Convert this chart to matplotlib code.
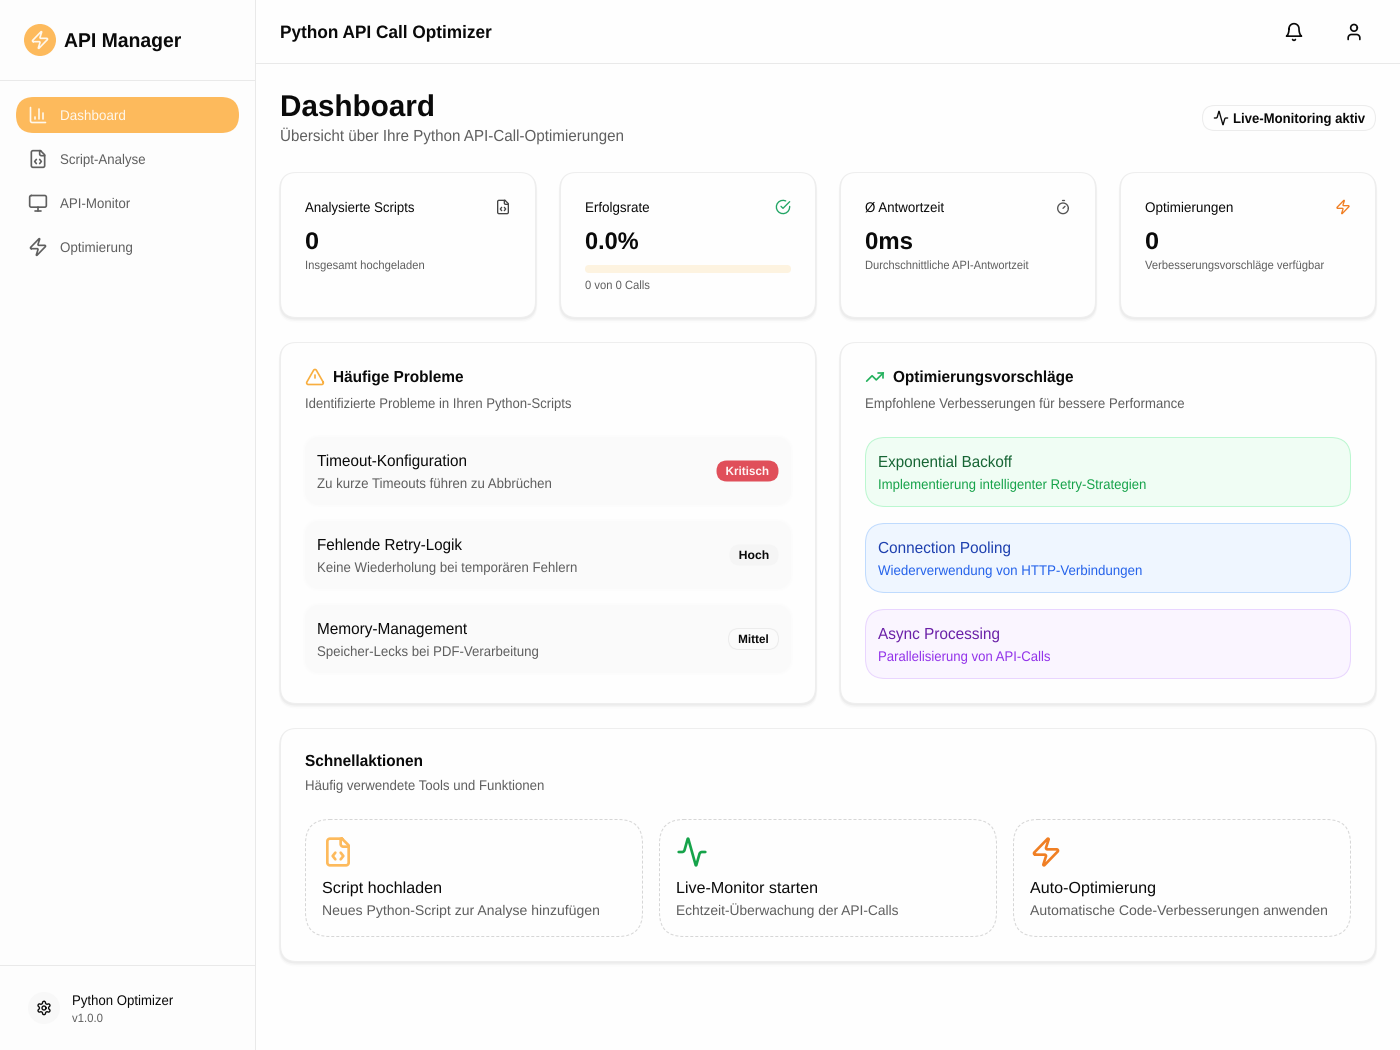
import re, math
import matplotlib
matplotlib.use("Agg")
import matplotlib.pyplot as plt
from matplotlib.patches import FancyBboxPatch, PathPatch, Circle
from matplotlib.path import Path
from matplotlib.patheffects import AbstractPathEffect
from matplotlib.textpath import TextPath
from matplotlib.font_manager import FontProperties
from matplotlib.transforms import Affine2D

plt.rcParams['font.family'] = ['Liberation Sans', 'DejaVu Sans']

# ---- content -----------------------------------------------------------
brand = "API Manager"
page_bar_title = "Python API Call Optimizer"
nav_labels = ["Dashboard", "Script-Analyse", "API-Monitor", "Optimierung"]
footer_name = "Python Optimizer"
footer_version = "v1.0.0"
page_title = "Dashboard"
page_subtitle = "Übersicht über Ihre Python API-Call-Optimierungen"
live_label = "Live-Monitoring aktiv"
stat_titles = ["Analysierte Scripts", "Erfolgsrate", "Ø Antwortzeit", "Optimierungen"]
stat_values = ["0", "0.0%", "0ms", "0"]
stat_notes = ["Insgesamt hochgeladen", "0 von 0 Calls",
              "Durchschnittliche API-Antwortzeit", "Verbesserungsvorschläge verfügbar"]
problems_title = "Häufige Probleme"
problems_sub = "Identifizierte Probleme in Ihren Python-Scripts"
problem_names = ["Timeout-Konfiguration", "Fehlende Retry-Logik", "Memory-Management"]
problem_texts = ["Zu kurze Timeouts führen zu Abbrüchen",
                 "Keine Wiederholung bei temporären Fehlern",
                 "Speicher-Lecks bei PDF-Verarbeitung"]
problem_badges = ["Kritisch", "Hoch", "Mittel"]
tips_title = "Optimierungsvorschläge"
tips_sub = "Empfohlene Verbesserungen für bessere Performance"
tip_names = ["Exponential Backoff", "Connection Pooling", "Async Processing"]
tip_texts = ["Implementierung intelligenter Retry-Strategien",
             "Wiederverwendung von HTTP-Verbindungen",
             "Parallelisierung von API-Calls"]
quick_title = "Schnellaktionen"
quick_sub = "Häufig verwendete Tools und Funktionen"
quick_names = ["Script hochladen", "Live-Monitor starten", "Auto-Optimierung"]
quick_texts = ["Neues Python-Script zur Analyse hinzufügen",
               "Echtzeit-Überwachung der API-Calls",
               "Automatische Code-Verbesserungen anwenden"]

# ---- colours -----------------------------------------------------------
PAGE = "#fefefe"; SIDE = "#fdfdfd"; LINE = "#e9e9e9"; INK = "#0a0a0a"; MUTE = "#5f5f5f"
ORANGE = "#fdba5c"; GREEN = "#16a34a"; DEEP_ORANGE = "#f07f24"

# ---- icons (24 unit outline glyphs) ------------------------------------
ZAP = ["M4 14a1 1 0 0 1-.78-1.63l9.9-10.2a.5.5 0 0 1 .86.46l-1.92 6.02A1 1 0 0 0 13 10h7a1 1 0 0 1 .78 1.63l-9.9 10.2a.5.5 0 0 1-.86-.46l1.92-6.02A1 1 0 0 0 11 14z"]
CHART = ["M3 3v16a2 2 0 0 0 2 2h16", "M18 17V9", "M13 17V5", "M8 17v-3"]
FILE = ["M15 2H6a2 2 0 0 0-2 2v16a2 2 0 0 0 2 2h12a2 2 0 0 0 2-2V7Z", "M14 2v4a2 2 0 0 0 2 2h4",
        "M10 12.5 8 15l2 2.5", "M14 12.5 16 15l-2 2.5"]
MONITOR = ["M4 3h16a2 2 0 0 1 2 2v10a2 2 0 0 1-2 2H4a2 2 0 0 1-2-2V5a2 2 0 0 1 2-2z", "M8 21h8", "M12 17v4"]
ACTIVITY = ["M22 12h-2.48a2 2 0 0 0-1.93 1.46l-2.35 8.36a.25.25 0 0 1-.48 0L9.24 2.18a.25.25 0 0 0-.48 0l-2.35 8.36A2 2 0 0 1 4.49 12H2"]
GEAR = ["M12.22 2h-.44a2 2 0 0 0-2 2v.18a2 2 0 0 1-1 1.73l-.43.25a2 2 0 0 1-2 0l-.15-.08a2 2 0 0 0-2.73.73l-.22.38a2 2 0 0 0 .73 2.73l.15.1a2 2 0 0 1 1 1.72v.51a2 2 0 0 1-1 1.74l-.15.09a2 2 0 0 0-.73 2.73l.22.38a2 2 0 0 0 2.73.73l.15-.08a2 2 0 0 1 2 0l.43.25a2 2 0 0 1 1 1.73V20a2 2 0 0 0 2 2h.44a2 2 0 0 0 2-2v-.18a2 2 0 0 1 1-1.73l.43-.25a2 2 0 0 1 2 0l.15.08a2 2 0 0 0 2.73-.73l.22-.39a2 2 0 0 0-.73-2.73l-.15-.08a2 2 0 0 1-1-1.74v-.5a2 2 0 0 1 1-1.74l.15-.09a2 2 0 0 0 .73-2.73l-.22-.38a2 2 0 0 0-2.73-.73l-.15.08a2 2 0 0 1-2 0l-.43-.25a2 2 0 0 1-1-1.73V4a2 2 0 0 0-2-2z",
        "M15 12a3 3 0 1 1-6 0a3 3 0 1 1 6 0z"]
BELL = ["M6 8a6 6 0 0 1 12 0c0 7 3 9 3 9H3s3-2 3-9", "M10.3 21a1.94 1.94 0 0 0 3.4 0"]
USER = ["M19 21v-2a4 4 0 0 0-4-4H9a4 4 0 0 0-4 4v2", "M16 7a4 4 0 1 1-8 0a4 4 0 1 1 8 0z"]
CHECK = ["M22 11.08V12a10 10 0 1 1-5.93-9.14", "M9 11l3 3L22 4"]
TIMER = ["M10 2h4", "M12 14l3-3", "M20 14a8 8 0 1 1-16 0a8 8 0 1 1 16 0z"]
ALERT = ["M21.73 18l-8-14a2 2 0 0 0-3.48 0l-8 14A2 2 0 0 0 4 21h16a2 2 0 0 0 1.73-3", "M12 9v4", "M12 17h.01"]
TREND = ["M22 7 13.5 15.5 8.5 10.5 2 17", "M16 7 22 7 22 13"]


def arc_points(x0, y0, rx, ry, phi, fa, fs, x1, y1, n=14):
    if x0 == x1 and y0 == y1:
        return []
    dx, dy = (x0 - x1) / 2, (y0 - y1) / 2
    lam = dx * dx / (rx * rx) + dy * dy / (ry * ry)
    if lam > 1:
        rx *= math.sqrt(lam); ry *= math.sqrt(lam)
    num = max(rx*rx*ry*ry - rx*rx*dy*dy - ry*ry*dx*dx, 0)
    den = rx*rx*dy*dy + ry*ry*dx*dx
    k = math.sqrt(num / den) * (1 if fa != fs else -1)
    cxp, cyp = k * rx * dy / ry, -k * ry * dx / rx
    cx, cy = cxp + (x0 + x1) / 2, cyp + (y0 + y1) / 2
    a0 = math.atan2((dy - cyp) / ry, (dx - cxp) / rx)
    a1 = math.atan2((-dy - cyp) / ry, (-dx - cxp) / rx)
    d = a1 - a0
    if fs and d < 0:
        d += 2 * math.pi
    if not fs and d > 0:
        d -= 2 * math.pi
    return [(cx + rx * math.cos(a0 + d * i / n), cy + ry * math.sin(a0 + d * i / n))
            for i in range(1, n + 1)]


def parse_svg(d):
    toks = re.findall(r'[MmLlHhVvCcSsAaZz]|[-+]?(?:\d*\.\d+|\d+\.?)', d)
    i = 0; pts = []; x = y = sx = sy = 0.0; cmd = None; lcx = lcy = None

    def num():
        nonlocal i
        v = float(toks[i]); i += 1
        return v

    def bez(x1, y1, x2, y2, x3, y3):
        nonlocal x, y
        for k in range(1, 13):
            t = k / 12; u = 1 - t
            pts.append((u**3*x + 3*u*u*t*x1 + 3*u*t*t*x2 + t**3*x3,
                        u**3*y + 3*u*u*t*y1 + 3*u*t*t*y2 + t**3*y3))
        x, y = x3, y3

    while i < len(toks):
        if re.match(r'[A-Za-z]', toks[i]):
            cmd = toks[i]; i += 1
            if cmd in 'Zz':
                pts.append((sx, sy)); x, y = sx, sy
                continue
        rel = cmd.islower(); c = cmd.upper()
        if c not in 'CS':
            lcx = lcy = None
        if c == 'M':
            x = num() + (x if rel else 0); y = num() + (y if rel else 0)
            sx, sy = x, y; pts.append((x, y)); cmd = 'l' if rel else 'L'
        elif c == 'L':
            x = num() + (x if rel else 0); y = num() + (y if rel else 0); pts.append((x, y))
        elif c == 'H':
            x = num() + (x if rel else 0); pts.append((x, y))
        elif c == 'V':
            y = num() + (y if rel else 0); pts.append((x, y))
        elif c == 'C':
            ox, oy = (x, y) if rel else (0, 0)
            a = [num() for _ in range(6)]
            lcx, lcy = a[2] + ox, a[3] + oy
            bez(a[0]+ox, a[1]+oy, a[2]+ox, a[3]+oy, a[4]+ox, a[5]+oy)
        elif c == 'S':
            ox, oy = (x, y) if rel else (0, 0)
            a = [num() for _ in range(4)]
            x1, y1 = 2*x - (lcx if lcx is not None else x), 2*y - (lcy if lcy is not None else y)
            lcx, lcy = a[0] + ox, a[1] + oy
            bez(x1, y1, a[0]+ox, a[1]+oy, a[2]+ox, a[3]+oy)
        elif c == 'A':
            rx, ry, phi, fa, fs = num(), num(), num(), num(), num()
            ex = num() + (x if rel else 0); ey = num() + (y if rel else 0)
            pts.extend(arc_points(x, y, rx, ry, phi, int(fa), int(fs), ex, ey))
            x, y = ex, ey
    return pts


class Squeeze(AbstractPathEffect):
    """Narrow a text run about its anchor, standing in for CSS negative letter-spacing."""
    def __init__(self, xc, sx):
        super().__init__()
        self.xc, self.sx = xc, sx

    def draw_path(self, renderer, gc, tpath, affine, rgbFace=None):
        a = affine + Affine2D().translate(-self.xc, 0).scale(self.sx, 1).translate(self.xc, 0)
        renderer.draw_path(gc, tpath, a, rgbFace)


fig = plt.figure(figsize=(14, 10.5), dpi=100, facecolor=PAGE)
ax = fig.add_axes([0, 0, 1, 1])
ax.set_xlim(0, 1400); ax.set_ylim(1050, 0); ax.axis('off')
PX = 0.72


def T(x, y, s, px, color=INK, weight='normal', width=None, ha='left', z=10):
    t = ax.text(x, y, s, fontsize=px * PX, color=color, fontweight=weight, ha=ha, va='baseline', zorder=z)
    fp = FontProperties(family='Liberation Sans', weight=weight)
    ext = TextPath((0, 0), s, size=px, prop=fp).get_extents()
    natural = ext.width if ha == 'center' else ext.x1
    sx = (width / natural) if width is not None else 1.0
    t.set_path_effects([Squeeze(ax.transData.transform((x, y))[0], sx)])
    return t


def icon(cx, cy, size, glyph, color, lw=2.0, z=9):
    s = size / 24
    for d in glyph:
        pts = [(cx - size/2 + a*s, cy - size/2 + b*s) for a, b in parse_svg(d)]
        ax.add_patch(PathPatch(Path(pts), fc='none', ec=color, lw=lw*s*PX, capstyle='round',
                               joinstyle='round', zorder=z))


def box(x0, y0, x1, y1, r, fc='none', ec='none', lw=1.0, ls='-', z=2, alpha=None):
    ax.add_patch(FancyBboxPatch((x0 + r, y0 + r), x1 - x0 - 2*r, y1 - y0 - 2*r,
                                boxstyle=f"round,pad={r},rounding_size={r}",
                                fc=fc, ec=ec, lw=lw*PX, ls=ls, zorder=z, alpha=alpha))


def card(x0, y0, x1, y1, r=16):
    for off, grow, a in [(3, 1.5, .012), (2, 1, .022), (1, .5, .035)]:
        box(x0 - grow, y0 + off - grow, x1 + grow, y1 + off + grow, r + grow, fc='#000000', z=1, alpha=a)
    box(x0 + .5, y0 + .5, x1 - .5, y1 - .5, r, fc='#fefefe', ec='#eeeeee', lw=1, z=2)


def hline(x0, x1, y):
    ln, = ax.plot([x0, x1], [y, y], color=LINE, lw=PX, solid_capstyle='butt', zorder=3)
    ln.set_snap(False)

# ---- sidebar -----------------------------------------------------------
ax.fill_between([0, 255], 0, 1050, color=SIDE, lw=0, zorder=0)
vl, = ax.plot([255.5, 255.5], [0, 1050], color=LINE, lw=PX, zorder=3)
vl.set_snap(False)
hline(0, 255, 80.5); hline(0, 255, 965.5); hline(256, 1400, 63.5)
ax.add_patch(Circle((40, 40), 16, fc=ORANGE, ec='none', zorder=4))
icon(40, 40, 20, ZAP, '#fff8ec', 2, z=5)
T(64, 47, brand, 20, INK, 'bold', width=117)

box(16, 97, 239, 133, 18, fc=ORANGE, z=2)
nav_glyphs = [CHART, FILE, MONITOR, ZAP]
nav_widths = [65, 85, 70, 72]
for k, (lab, g, w) in enumerate(zip(nav_labels, nav_glyphs, nav_widths)):
    cy = 115 + 44 * k
    col = '#fff8ec' if k == 0 else MUTE
    icon(38, cy, 20, g, col, 2)
    T(60, cy + 5, lab, 14, col, width=w)

ax.add_patch(Circle((44, 1008), 16, fc='#f8f8f8', ec='none', zorder=4))
icon(44, 1008, 16, GEAR, INK, 2, z=5)
T(72, 1005, footer_name, 14, INK, width=101)
T(72, 1022, footer_version, 12, MUTE, width=30.5)

# ---- top bar -----------------------------------------------------------
T(280, 38, page_bar_title, 18, INK, 'bold', width=211.5)
icon(1294, 32, 20, BELL, INK, 2)
icon(1354, 32, 20, USER, INK, 2)

T(280, 116, page_title, 30, INK, 'bold', width=153)
T(280, 141, page_subtitle, 16, MUTE, width=343)

box(1202.5, 105.5, 1375.5, 130.5, 12.5, fc='#fefefe', ec='#ececec', lw=1)
icon(1221, 118, 16, ACTIVITY, INK, 2)
T(1233, 123, live_label, 14, INK, 'bold', width=132)

# ---- stat cards --------------------------------------------------------
stat_x = [280, 560, 840, 1120]
stat_glyphs = [(FILE, '#444444'), (CHECK, '#22a565'), (TIMER, '#555555'), (ZAP, DEEP_ORANGE)]
title_w = [109, 64, 79, 87.5]
note_w = [119, 64.5, 163.5, 179]
value_w = [13, 53, 47, 13]
for k, x in enumerate(stat_x):
    card(x, 172, x + 256, 318)
    T(x + 25, 212, stat_titles[k], 14, INK, width=title_w[k])
    icon(x + 223, 207, 16, stat_glyphs[k][0], stat_glyphs[k][1], 2)
    T(x + 25, 249, stat_values[k], 24, INK, 'bold', width=value_w[k])
    ny = 289 if k == 1 else 269
    T(x + 25, ny, stat_notes[k], 12, MUTE, width=note_w[k])
box(585, 265, 791, 273, 4, fc='#fdf3e0')

# ---- problems panel ----------------------------------------------------
card(280, 342, 816, 704)
icon(315, 377, 20, ALERT, '#f8ae3f', 2)
T(333, 382, problems_title, 16, INK, 'bold', width=130)
T(305, 408, problems_sub, 14, MUTE, width=266)
pname_w = [149, 145, 150]
ptext_w = [234, 259.5, 221]
badge_x = [716, 729, 728]
badge_fc = ['#e04f5a', '#f5f5f5', '#fbfbfb']
badge_ec = ['none', 'none', '#ececec']
badge_tc = ['#fff4f4', INK, INK]
for k in range(3):
    y = 437 + 84 * k
    for g, a in [(4, .3), (2, .5)]:
        box(305 - g + 2, y - g + 2, 791 + g - 2, y + 68 + g - 2, 18, fc='#fafafa', z=3, alpha=a)
    box(305, y, 791, y + 68, 16, fc='#fafafa', z=3)
    T(317, y + 29, problem_names[k], 16, INK, width=pname_w[k])
    T(317, y + 51, problem_texts[k], 14, MUTE, width=ptext_w[k])
    box(badge_x[k] + .5, y + 23.5, 778.5, y + 44.5, 10.5, fc=badge_fc[k], ec=badge_ec[k], lw=1, z=4)
    T((badge_x[k] + 779) / 2, y + 38, problem_badges[k], 12, badge_tc[k], 'bold',
      width=[42, 29, 29][k], ha='center')

# ---- tips panel --------------------------------------------------------
card(840, 342, 1376, 704)
icon(875, 377, 20, TREND, '#22b15c', 2)
T(893, 382, tips_title, 16, INK, 'bold', width=180)
T(865, 408, tips_sub, 14, MUTE, width=319)
tip_fc = ['#f0fdf4', '#eff6ff', '#faf5ff']
tip_ec = ['#bbf7d0', '#bfdbfe', '#e9d5ff']
tip_tc = ['#166534', '#1e40af', '#6b21a8']
tip_sc = ['#16a34a', '#2563eb', '#9333ea']
tname_w = [134, 132, 121]
ttext_w = [267.5, 263.5, 172]
for k in range(3):
    y = 437 + 86 * k
    box(865.5, y + .5, 1350.5, y + 69.5, 20, fc=tip_fc[k], ec=tip_ec[k], lw=1, z=3)
    T(878, y + 30, tip_names[k], 16, tip_tc[k], width=tname_w[k])
    T(878, y + 52, tip_texts[k], 14, tip_sc[k], width=ttext_w[k])

# ---- quick actions -----------------------------------------------------
card(280, 728, 1376, 962)
T(305, 766, quick_title, 16, INK, 'bold', width=117)
T(305, 790, quick_sub, 14, MUTE, width=238.5)
quick_x = [305, 659, 1013]
quick_glyphs = [(FILE, ORANGE), (ACTIVITY, GREEN), (ZAP, DEEP_ORANGE)]
qname_w = [119, 141, 125]
qtext_w = [277, 222, 297]
for k, x in enumerate(quick_x):
    box(x + .5, 819.5, x + 337.5, 936.5, 24, fc='#fefefe', ec='#d6d6d6', lw=1, ls=(0, (3, 2)), z=3)
    icon(x + 33, 852, 32, quick_glyphs[k][0], quick_glyphs[k][1], 2)
    T(x + 17, 893, quick_names[k], 16, INK, width=qname_w[k])
    T(x + 17, 915, quick_texts[k], 14, MUTE, width=qtext_w[k])

fig.savefig("out.png", dpi=100, facecolor=fig.get_facecolor())
